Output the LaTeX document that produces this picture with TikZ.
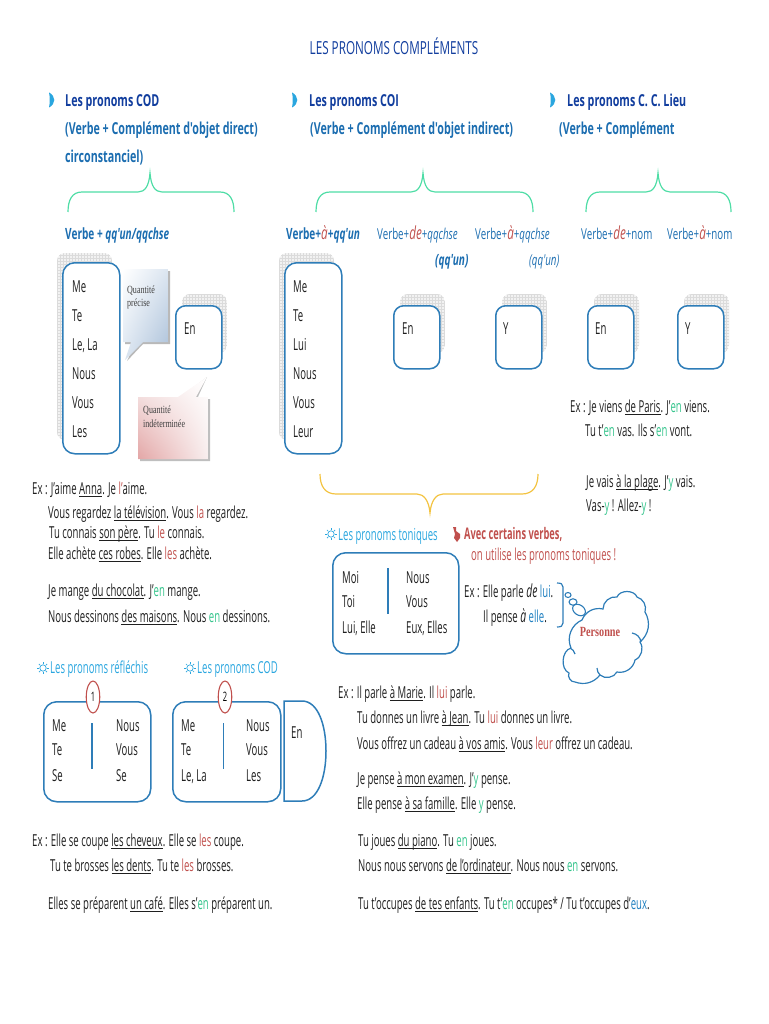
\documentclass[tikz,border=0pt]{standalone}
\usepackage{fontspec}
\setmainfont[FakeStretch=0.58]{Open Sans}
\newfontfamily\hfont[FakeStretch=0.65]{Open Sans}
\newfontfamily\srf[FakeStretch=0.73]{Liberation Serif}
\usetikzlibrary{shapes.geometric,shadings}
\definecolor{hdark}{HTML}{123E9E}
\definecolor{hmid}{HTML}{1B6DB0}
\definecolor{hcyan}{HTML}{2AA6DF}
\definecolor{bxblue}{HTML}{2E7DB8}
\definecolor{brgreen}{HTML}{4FDDA6}
\definecolor{bryel}{HTML}{F3C341}
\definecolor{rdx}{HTML}{C0504D}
\definecolor{gnx}{HTML}{35C48C}
\definecolor{bux}{HTML}{1F7FC0}
\definecolor{cbA}{HTML}{DCE6F1}
\definecolor{cbB}{HTML}{A9BFD8}
\definecolor{crA}{HTML}{E3A6A6}
\definecolor{crB}{HTML}{F8EEEE}
\newcommand\rd[1]{\textcolor{rdx}{#1}}
\newcommand\gn[1]{\textcolor{gnx}{#1}}
\newcommand\bu[1]{\textcolor{bux}{#1}}
\newcommand\ulx[1]{\setbox0\hbox{#1}\rlap{\vrule height -1.6pt depth 2.7pt width \wd0}\box0}
\newcommand\dea{\textit{\fontsize{18}{18}\selectfont de}}
\newcommand\aaa{\textit{\fontsize{18}{18}\selectfont à}}
\newcommand\gridbox[4]{\begin{scope}
  \clip[rounded corners=8pt] (#1,#2) rectangle (#3,#4);
  \fill[gray!10] (#1,#2) rectangle (#3,#4);
  \draw[gray!28,line width=.35pt,xstep=3pt,ystep=3pt] (#1,#2) grid (#3,#4);
  \end{scope}}
\newcommand\sunx[2]{\begin{scope}[shift={(#1,#2)},draw=hcyan,line width=.7pt]
  \draw (0,0) circle (3.2pt);
  \foreach \a in {0,45,...,315}{\draw (\a:3.9pt) -- (\a:5.8pt);}
  \end{scope}}
\newcommand\bulx[2]{\fill[hcyan] (#1,#2-7.5) .. controls (#1+7,#2-4) and (#1+7,#2+4) .. (#1,#2+7.5) .. controls (#1+1,#2+3) and (#1+1,#2-3) .. cycle;}
\tikzset{
 x=1pt,y=-1pt,
 tx/.style={anchor=base west,inner sep=0pt,font=\fontsize{16.5}{18}\selectfont,text=black!88},
 h1/.style={tx,text=hdark,font=\hfont\fontsize{16.5}{18}\selectfont\bfseries},
 h2/.style={tx,text=hmid,font=\hfont\fontsize{16.5}{18}\selectfont\bfseries},
 lb/.style={tx,text=hmid,font=\hfont\fontsize{15}{18}\selectfont},
 lbb/.style={tx,text=hmid,font=\hfont\fontsize{15.5}{18}\selectfont\bfseries},
 cy/.style={tx,text=hcyan},
 bx/.style={draw=bxblue,line width=1.5pt,rounded corners=10pt,fill=white,inner sep=0pt,anchor=north west},
 brc/.style={line width=1.2pt,draw=brgreen},
 sm/.style={anchor=base west,inner sep=0pt,font=\srf\fontsize{11}{13}\selectfont,text=black!75},
}
\begin{document}
\begin{tikzpicture}
\useasboundingbox (0,0) rectangle (768,1024);
\node[anchor=base,inner sep=0pt,text=hdark,font=\hfont\fontsize{18}{18}\selectfont] (title) at (394,55) {LES PRONOMS COMPLÉMENTS};
% headers
\bulx{49}{100}\bulx{292}{100}\bulx{550}{100}
\node[h1] (ha) at (65,107) {Les pronoms COD};
\node[h2] (hb) at (65,135) {(Verbe + Complément d'objet direct)};
\node[h2] (hc) at (65,163) {circonstanciel)};
\node[h1] (hd) at (309,107) {Les pronoms COI};
\node[h2] (he) at (310,135) {(Verbe + Complément d'objet indirect)};
\node[h1] (hf) at (567,107) {Les pronoms C. C. Lieu};
\node[h2] (hg) at (559,135) {(Verbe + Complément};
% braces
\foreach \xa/\xb/\xt in {68/234/150,316/533/423,586/731/658}{
 \draw[brc] (\xa,212) .. controls (\xa,200) and (\xa+4,192) .. (\xa+14,192)
  -- (\xt-12,192) .. controls (\xt-5,192) and (\xt-1,186) .. (\xt,173)
  .. controls (\xt+1,186) and (\xt+5,192) .. (\xt+12,192) -- (\xb-14,192)
  .. controls (\xb-4,192) and (\xb,200) .. (\xb,212);
}
\draw[brc,draw=bryel] (320,474) .. controls (320,486) and (325,494) .. (336,494)
  -- (417,494) .. controls (424,494) and (429,501) .. (430,513)
  .. controls (431,501) and (436,494) .. (443,494) -- (522,494)
  .. controls (533,494) and (538,486) .. (538,474);
% labels
\node[lbb] (la) at (65,240) {Verbe + \textit{qq'un/qqchse}};
\node[lbb] (lb) at (286,240) {Verbe+\rd{\mdseries\aaa}+\textit{qq'un}};
\node[lb] (lc) at (377,240) {Verbe+\rd{\dea}+\textit{qqchse}};
\node[lb] (ld) at (475,240) {Verbe+\rd{\aaa}+\textit{qqchse}};
\node[lbb] (le) at (435,265) {\textit{(qq'un)}};
\node[lb] (lf) at (529,265) {\textit{(qq'un)}};
\node[lb] (lg) at (581,240) {Verbe+\rd{\dea}+nom};
\node[lb] (lh) at (667,240) {Verbe+\rd{\aaa}+nom};
% grid shadows and boxes
\gridbox{57}{253}{112}{440}
\node[bx,minimum width=57pt,minimum height=191pt,rounded corners=12pt] (boxa) at (62,262) {};
\gridbox{279}{253}{334}{440}
\node[bx,minimum width=57pt,minimum height=191pt,rounded corners=12pt] (boxb) at (284,262) {};
\foreach \xa in {175,393,495,587,677}{
 \gridbox{\xa+7}{294}{\xa+52}{353}
 \node[bx,minimum width=46pt,minimum height=63pt] (sq\xa) at (\xa,305) {};
}
\node[tx] (a1) at (72,292) {Me};
\node[tx] (a2) at (72,321) {Te};
\node[tx] (a3) at (72,350) {Le, La};
\node[tx] (a4) at (72,379) {Nous};
\node[tx] (a5) at (72,408) {Vous};
\node[tx] (a6) at (72,437) {Les};
\node[tx] (b1) at (293,292) {Me};
\node[tx] (b2) at (293,321) {Te};
\node[tx] (b3) at (293,350) {Lui};
\node[tx] (b4) at (293,379) {Nous};
\node[tx] (b5) at (293,408) {Vous};
\node[tx] (b6) at (293,437) {Leur};
\node[tx] (e1) at (184,334) {En};
\node[tx] (e2) at (402,334) {En};
\node[tx] (e3) at (503,334) {Y};
\node[tx] (e4) at (595,334) {En};
\node[tx] (e5) at (685,334) {Y};
% callouts
\fill[gray!55] (125,271) -- (170,271) -- (170,344) -- (143,344) -- (127,361) -- (135,344) -- (125,344) -- cycle;
\begin{scope}
\clip (123,269) -- (168,269) -- (168,342) -- (143,342) -- (125,360) -- (131,342) -- (123,342) -- cycle;
\shade[upper left=white,upper right=cbA,lower left=cbA,lower right=cbB] (123,269) rectangle (168,360);
\end{scope}
\node[sm] (qa1) at (127,293) {Quantité};
\node[sm] (qa2) at (127,306) {précise};
\fill[gray!50] (140,399) -- (178,399) -- (207,377) -- (197,399) -- (210,399) -- (210,461) -- (140,461) -- cycle;
\begin{scope}
\clip (138,397) -- (178,397) -- (207,377) -- (196,397) -- (208,397) -- (208,459) -- (138,459) -- cycle;
\shade[upper left=crB,upper right=white,lower left=crA,lower right=crB] (138,377) rectangle (208,459);
\end{scope}
\node[sm] (qb1) at (143,413) {Quantité};
\node[sm] (qb2) at (143,427) {indéterminée};
% examples left
\node[tx] (x1) at (32,494) {Ex : J'aime \ulx{Anna}. Je \rd{l'}aime.};
\node[tx] (x2) at (48,518) {Vous regardez \ulx{la télévision}. Vous \rd{la} regardez.};
\node[tx] (x3) at (49,538) {Tu connais \ulx{son père}. Tu \rd{le} connais.};
\node[tx] (x4) at (48,559) {Elle achète \ulx{ces robes}. Elle \rd{les} achète.};
\node[tx] (x5) at (48,596) {Je mange \ulx{du chocolat}. J'\gn{en} mange.};
\node[tx] (x6) at (48,622) {Nous dessinons \ulx{des maisons}. Nous \gn{en} dessinons.};
% examples right
\node[tx] (y1) at (570,412) {Ex : Je viens \ulx{de Paris}. J'\gn{en} viens.};
\node[tx] (y2) at (585,436) {Tu t'\gn{en} vas. Ils s'\gn{en} vont.};
\node[tx] (y3) at (586,487) {Je vais \ulx{à la plage}. J'\gn{y} vais.};
\node[tx] (y4) at (586,511) {Vas-\gn{y} ! Allez-\gn{y} !};
% toniques
\sunx{331}{534}
\node[cy] (ta) at (338,540) {Les pronoms toniques};
\fill[rdx] (453,527) -- (456,527) -- (456,531) -- (460,534) -- (460,538) -- (457,542) -- (454,538) -- (455,534) -- cycle;
\node[tx,text=rdx,font=\fontsize{16}{18}\selectfont\bfseries] (tb) at (464,539) {Avec certains verbes,};
\node[tx,text=rdx] (tc) at (471,560) {on utilise les pronoms toniques !};
\node[bx,minimum width=126pt,minimum height=101pt,rounded corners=13pt] (tbox) at (332,552) {};
\node[tx] (t1) at (342,583) {Moi};
\node[tx] (t2) at (342,607) {Toi};
\node[tx] (t3) at (342,633) {Lui, Elle};
\node[tx] (t4) at (406,583) {Nous};
\node[tx] (t5) at (406,607) {Vous};
\node[tx] (t6) at (406,633) {Eux, Elles};
\draw[bxblue,line width=1.1pt] (388,568) -- (388,614);
\node[tx] (u1) at (464,597) {Ex : Elle parle \dea{} \bu{lui}.};
\node[tx] (u2) at (483,622) {Il pense \aaa{} \bu{elle}.};
\draw[bxblue,line width=1.2pt] (557,583) .. controls (561,583) and (563,584) .. (563,587) -- (563,623) .. controls (563,626) and (561,627) .. (557,627);
% cloud
\draw[bxblue,line width=1.2pt,fill=white] (569,673) to[bend left=70] (571,648) to[bend left=45] (582,620) to[bend left=40] (603,609) to[bend left=50] (617,597) to[bend left=70] (637,597) to[bend left=45] (645,612) to[bend left=40] (640,642) to[bend left=50] (635,660) to[bend left=45] (617,672) to[bend left=50] (600,675) to[bend left=35] (575,682) to[bend left=60] cycle;
\draw[bxblue,line width=1.2pt] (632,633) to[bend left=35] (641,642);
\draw[bxblue,line width=1.2pt] (570,648) to[bend left=25] (575,654);
\draw[bxblue,line width=1.2pt] (600,675) to[bend left=20] (597,668);
\draw[bxblue,line width=1.1pt] (568,595) ellipse (3 and 2.5);
\draw[bxblue,line width=1.1pt] (573,602) ellipse (4 and 3.2);
\draw[bxblue,line width=1.1pt,rotate around={-35:(579,610)}] (579,610) ellipse (7 and 5);
\node[anchor=base,inner sep=0pt,text=rdx,font=\srf\fontsize{14}{15}\selectfont\bfseries] (pe) at (600,636) {Personne};
% reflexive
\sunx{43}{668}\sunx{190}{668}
\node[cy] (ra) at (50,673) {Les pronoms réfléchis};
\node[cy] (rb) at (197,673) {Les pronoms COD};
\node[bx,minimum width=107pt,minimum height=100pt,rounded corners=13pt] (r1) at (43,701) {};
\node[bx,minimum width=108pt,minimum height=100pt,rounded corners=13pt] (r2) at (172,701) {};
\draw[bxblue,line width=1.5pt,fill=white] (284,701) -- (302,701) .. controls (318,701) and (326,725) .. (326,751) .. controls (326,777) and (318,801) .. (302,801) -- (284,801) -- cycle;
\node[draw=rdx,line width=1.1pt,fill=white,ellipse,minimum width=13.5pt,minimum height=32pt,inner sep=0pt,font=\fontsize{13}{14}\selectfont] (c1) at (93,697) {1};
\node[draw=rdx,line width=1.1pt,fill=white,ellipse,minimum width=13.5pt,minimum height=32pt,inner sep=0pt,font=\fontsize{13}{14}\selectfont] (c2) at (225,697) {2};
\draw[bxblue,line width=1.1pt] (92,723) -- (92,769);
\draw[bxblue,line width=1.1pt] (223.5,723) -- (223.5,769);
\node[tx] (m1) at (52,731) {Me};
\node[tx] (m2) at (52,755) {Te};
\node[tx] (m3) at (52,781) {Se};
\node[tx] (m4) at (116,731) {Nous};
\node[tx] (m5) at (116,755) {Vous};
\node[tx] (m6) at (116,781) {Se};
\node[tx] (n1) at (181,731) {Me};
\node[tx] (n2) at (181,755) {Te};
\node[tx] (n3) at (181,781) {Le, La};
\node[tx] (n4) at (246,731) {Nous};
\node[tx] (n5) at (246,755) {Vous};
\node[tx] (n6) at (246,781) {Les};
\node[tx] (n7) at (291,738) {En};
% bottom left
\node[tx] (v1) at (32,846) {Ex : Elle se coupe \ulx{les cheveux}. Elle se \rd{les} coupe.};
\node[tx] (v2) at (50,871) {Tu te brosses \ulx{les dents}. Tu te \rd{les} brosses.};
\node[tx] (v3) at (48,909) {Elles se préparent \ulx{un café}. Elles s'\gn{en} préparent un.};
% bottom right
\node[tx] (w1) at (338,698) {Ex : Il parle \ulx{à Marie}. Il \rd{lui} parle.};
\node[tx] (w2) at (357,723) {Tu donnes un livre \ulx{à Jean}. Tu \rd{lui} donnes un livre.};
\node[tx] (w3) at (357,749) {Vous offrez un cadeau \ulx{à vos amis}. Vous \rd{leur} offrez un cadeau.};
\node[tx] (w4) at (357,784) {Je pense \ulx{à mon examen}. J'\gn{y} pense.};
\node[tx] (w5) at (357,809) {Elle pense \ulx{à sa famille}. Elle \gn{y} pense.};
\node[tx] (w6) at (358,846) {Tu joues \ulx{du piano}. Tu \gn{en} joues.};
\node[tx] (w7) at (358,871) {Nous nous servons \ulx{de l'ordinateur}. Nous nous \gn{en} servons.};
\node[tx] (w8) at (358,909) {Tu t'occupes \ulx{de tes enfants}. Tu t'\gn{en} occupes* / Tu t'occupes d'\bu{eux}.};
\end{tikzpicture}
\end{document}
